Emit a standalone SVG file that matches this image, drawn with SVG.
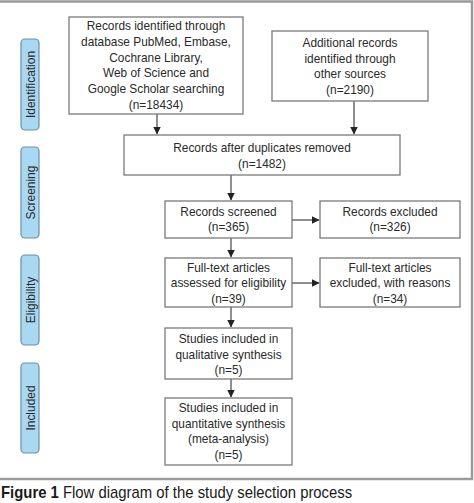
<svg xmlns="http://www.w3.org/2000/svg" width="474" height="503" viewBox="0 0 474 503">
<defs>
<marker id="ah" markerWidth="8" markerHeight="8" refX="7.5" refY="4" orient="auto" markerUnits="userSpaceOnUse">
<path d="M0,0 L8,4 L0,8 Z" fill="#222"/>
</marker>
<style>
.box{fill:#fff;stroke:#7a7a7a;stroke-width:1.3}
.t{font-family:"Liberation Sans",Arial,sans-serif;font-size:13.2px;fill:#2a2a2a;text-anchor:middle}
.stage{fill:#a9d8f2;stroke:#6c8fa6;stroke-width:1.2}
.st{font-family:"Liberation Sans",Arial,sans-serif;font-size:13px;fill:#2a2a2a;text-anchor:middle}
.c{stroke:#444;stroke-width:1.2;fill:none;marker-end:url(#ah)}
.frame{stroke:#9a9a9a;stroke-width:2.5;fill:none}
.cap{font-family:"Liberation Sans",Arial,sans-serif;font-size:16px;fill:#1a1a1a}
</style>
</defs>
<rect width="474" height="503" fill="#fff"/>
<path class="frame" d="M0,1.5 H472 V479 H0"/>

<g id="stage-identification"><rect class="stage" x="21" y="39" width="18" height="91" rx="4"/><text class="st" transform="translate(34.5,84.5) rotate(-90) scale(0.92,1)">Identification</text></g>
<g id="stage-screening"><rect class="stage" x="21" y="147" width="18" height="91" rx="4"/><text class="st" transform="translate(34.5,192.5) rotate(-90) scale(0.92,1)">Screening</text></g>
<g id="stage-eligibility"><rect class="stage" x="21" y="255" width="18" height="90" rx="4"/><text class="st" transform="translate(34.5,300) rotate(-90) scale(0.92,1)">Eligibility</text></g>
<g id="stage-included"><rect class="stage" x="21" y="363" width="18" height="90" rx="4"/><text class="st" transform="translate(34.5,408) rotate(-90) scale(0.92,1)">Included</text></g>

<g id="connectors">
<path class="c" d="M157,114 V134"/>
<path class="c" d="M354,101 V134"/>
<path class="c" d="M231,175 V200"/>
<path class="c" d="M292,220 H319"/>
<path class="c" d="M231,238 V257"/>
<path class="c" d="M292,283 H319"/>
<path class="c" d="M231,307 V327"/>
<path class="c" d="M231,379 V397"/>
</g>

<g id="n1"><rect class="box" x="69" y="17" width="174" height="97"/>
<g transform="matrix(0.9,0,0,1,156,0)">
<text class="t" x="0" y="30.5">Records identified through</text>
<text class="t" x="0" y="46.5">database PubMed, Embase,</text>
<text class="t" x="0" y="62">Cochrane Library,</text>
<text class="t" x="0" y="77.5">Web of Science and</text>
<text class="t" x="0" y="93.5">Google Scholar searching</text>
<text class="t" x="0" y="109">(n=18434)</text></g></g>

<g id="n2"><rect class="box" x="272" y="31" width="156" height="70"/>
<g transform="matrix(0.9,0,0,1,350,0)">
<text class="t" x="0" y="47.5">Additional records</text>
<text class="t" x="0" y="63.5">identified through</text>
<text class="t" x="0" y="78.5">other sources</text>
<text class="t" x="0" y="94.5">(n=2190)</text></g></g>

<g id="n3"><rect class="box" x="124" y="135" width="276" height="40"/>
<g transform="matrix(0.9,0,0,1,262,0)">
<text class="t" x="0" y="152.5">Records after duplicates removed</text>
<text class="t" x="0" y="168.5">(n=1482)</text></g></g>

<g id="n4"><rect class="box" x="165" y="201" width="127" height="37"/>
<g transform="matrix(0.9,0,0,1,228.5,0)">
<text class="t" x="0" y="216.5">Records screened</text>
<text class="t" x="0" y="231.5">(n=365)</text></g></g>

<g id="n5"><rect class="box" x="320" y="201" width="140" height="37"/>
<g transform="matrix(0.9,0,0,1,390,0)">
<text class="t" x="0" y="216.5">Records excluded</text>
<text class="t" x="0" y="231.5">(n=326)</text></g></g>

<g id="n6"><rect class="box" x="165" y="258" width="127" height="49"/>
<g transform="matrix(0.9,0,0,1,228.5,0)">
<text class="t" x="0" y="272.5">Full-text articles</text>
<text class="t" x="0" y="287.5">assessed for eligibility</text>
<text class="t" x="0" y="303">(n=39)</text></g></g>

<g id="n7"><rect class="box" x="320" y="258" width="140" height="49"/>
<g transform="matrix(0.9,0,0,1,390,0)">
<text class="t" x="0" y="272.5">Full-text articles</text>
<text class="t" x="0" y="287.5">excluded, with reasons</text>
<text class="t" x="0" y="303">(n=34)</text></g></g>

<g id="n8"><rect class="box" x="165" y="328" width="127" height="51"/>
<g transform="matrix(0.9,0,0,1,228.5,0)">
<text class="t" x="0" y="343">Studies included in</text>
<text class="t" x="0" y="359">qualitative synthesis</text>
<text class="t" x="0" y="374.5">(n=5)</text></g></g>

<g id="n9"><rect class="box" x="165" y="398" width="127" height="67"/>
<g transform="matrix(0.9,0,0,1,228.5,0)">
<text class="t" x="0" y="412.5">Studies included in</text>
<text class="t" x="0" y="428">quantitative synthesis</text>
<text class="t" x="0" y="443.5">(meta-analysis)</text>
<text class="t" x="0" y="459">(n=5)</text></g></g>

<text class="cap" transform="matrix(0.93,0,0,1,1,0)" x="0" y="498.5"><tspan font-weight="bold">Figure 1</tspan>  Flow diagram of the study selection process</text>
</svg>
